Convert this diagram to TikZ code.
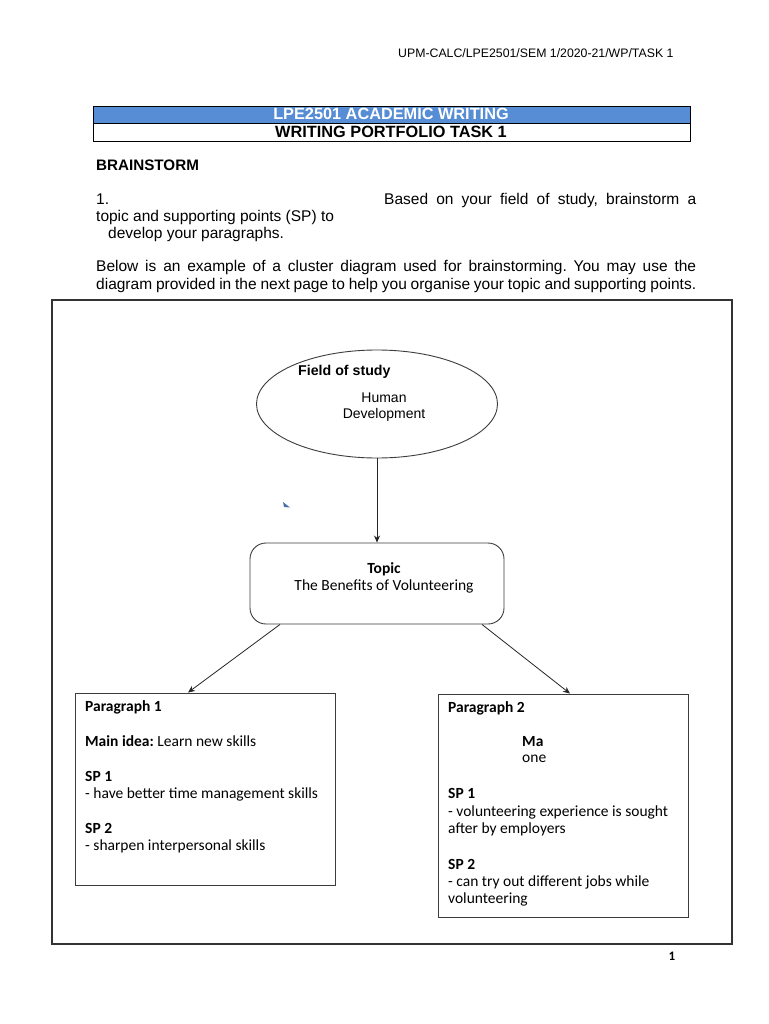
\documentclass[tikz,border=0pt]{standalone}
\usepackage{fontspec}
\setmainfont{Liberation Sans}
\newfontfamily\calfont{Carlito}
\usetikzlibrary{shapes.geometric,arrows.meta}
\definecolor{barblue}{RGB}{86,141,212}
\definecolor{frameline}{RGB}{60,60,60}
\frenchspacing
\tikzset{
  txt/.style={anchor=base west,inner sep=0pt,font=\fontsize{15.5}{18}\selectfont},
  ctxt/.style={anchor=base,inner sep=0pt},
  btxt/.style={anchor=base west,inner sep=0pt,font=\calfont\fontsize{15.5}{18}\selectfont},
  bbtxt/.style={anchor=base west,inner sep=0pt,font=\calfont\bfseries\fontsize{15.5}{18}\selectfont},
  shapeline/.style={draw=frameline,line width=0.9pt},
  arr/.style={-{Stealth[length=7pt,width=6pt]},line width=0.8pt,draw=black!85},
}
\begin{document}
\begin{tikzpicture}[x=1pt,y=-1pt]
\useasboundingbox (0,0) rectangle (768,1024);
\fill[white] (0,0) rectangle (768,1024);
% running header
\node[anchor=base west,inner sep=0pt,font=\fontsize{12.3}{14}\selectfont] (hdr) at (398,58) {UPM-CALC/LPE2501/SEM 1/2020-21/WP/TASK 1};
% title table
\fill[barblue] (93,106) rectangle (690,123);
\draw[line width=0.9pt] (93,106) rectangle (690,141);
\draw[line width=0.9pt] (93,123) -- (690,123);
\node[ctxt,text=white,font=\bfseries\fontsize{16.3}{18}\selectfont] (t1) at (391,119.8) {LPE2501 ACADEMIC WRITING};
\node[ctxt,font=\bfseries\fontsize{16.3}{18}\selectfont] (t2) at (391,137.5) {WRITING PORTFOLIO TASK 1};
% intro text
\node[txt,font=\bfseries\fontsize{15.2}{18}\selectfont] (bs) at (96,171) {BRAINSTORM};
\node[txt] (n1) at (96,205) {1.};
\node[txt] (l1) at (384,205) {\makebox[312pt][s]{Based on your field of study, brainstorm a}};
\node[txt] (l2) at (96,222) {topic and supporting points (SP) to};
\node[txt] (l3) at (108,239) {develop your paragraphs.};
\node[txt] (l4) at (96,271) {\makebox[600pt][s]{Below is an example of a cluster diagram used for brainstorming. You may use the}};
\node[txt] (l5) at (96,289) {\makebox[600pt][s]{diagram provided in the next page to help you organise your topic and supporting points.}};
% outer frame
\draw[line width=1.1pt,draw=black!80] (52,300) rectangle (732,944);
% field of study ellipse
\node[ellipse,shapeline,minimum width=241pt,minimum height=108pt] (fos) at (377,404) {};
\node[anchor=base west,inner sep=0pt,font=\bfseries\fontsize{14.2}{16}\selectfont] (fost) at (298,375) {Field of study};
\node[ctxt,font=\fontsize{14}{16}\selectfont] (hum) at (384,402) {Human};
\node[ctxt,font=\fontsize{14}{16}\selectfont] (dev) at (384,418) {Development};
% stray mark
\fill[barblue!80!black] (283,502) -- (290,507.5) -- (284,507) -- cycle;
% topic box
\node[shapeline,rounded corners=16pt,minimum width=254pt,minimum height=81pt] (topic) at (377,583.5) {};
\node[ctxt,font=\calfont\bfseries\fontsize{15.5}{18}\selectfont] (tp) at (384,573) {Topic};
\node[ctxt,font=\calfont\fontsize{15.5}{18}\selectfont] (tpt) at (384,590) {The Benefits of Volunteering};
% paragraph boxes
\node[shapeline,minimum width=260pt,minimum height=192pt] (p1) at (205,789) {};
\node[shapeline,minimum width=250pt,minimum height=223pt] (p2) at (563,805.5) {};
% arrows
\draw[arr] (fos.south) -- (topic.north);
\draw[arr] ([xshift=-97pt]topic.south) -- ([xshift=-17pt]p1.north);
\draw[arr] ([xshift=105pt]topic.south) -- ([xshift=7pt]p2.north);
% paragraph 1 text
\node[bbtxt] (a1) at (85,711) {Paragraph 1};
\node[btxt] (a2) at (85,746) {\textbf{Main idea:} Learn new skills};
\node[bbtxt] (a3) at (85,781) {SP 1};
\node[btxt] (a4) at (85,798) {- have better time management skills};
\node[bbtxt] (a5) at (85,833) {SP 2};
\node[btxt] (a6) at (85,850) {- sharpen interpersonal skills};
% paragraph 2 text
\node[bbtxt] (b1) at (448,712) {Paragraph 2};
\node[bbtxt] (b2) at (522,746) {Ma};
\node[btxt] (b3) at (522,762) {one};
\node[bbtxt] (b4) at (448,798) {SP 1};
\node[btxt] (b5) at (448,816) {- volunteering experience is sought};
\node[btxt] (b6) at (448,833) {after by employers};
\node[bbtxt] (b7) at (448,869) {SP 2};
\node[btxt] (b8) at (448,886) {- can try out different jobs while};
\node[btxt] (b9) at (448,903) {volunteering};
% page number
\node[ctxt,font=\calfont\bfseries\fontsize{13}{15}\selectfont] (pg) at (672,960) {1};
\end{tikzpicture}
\end{document}
